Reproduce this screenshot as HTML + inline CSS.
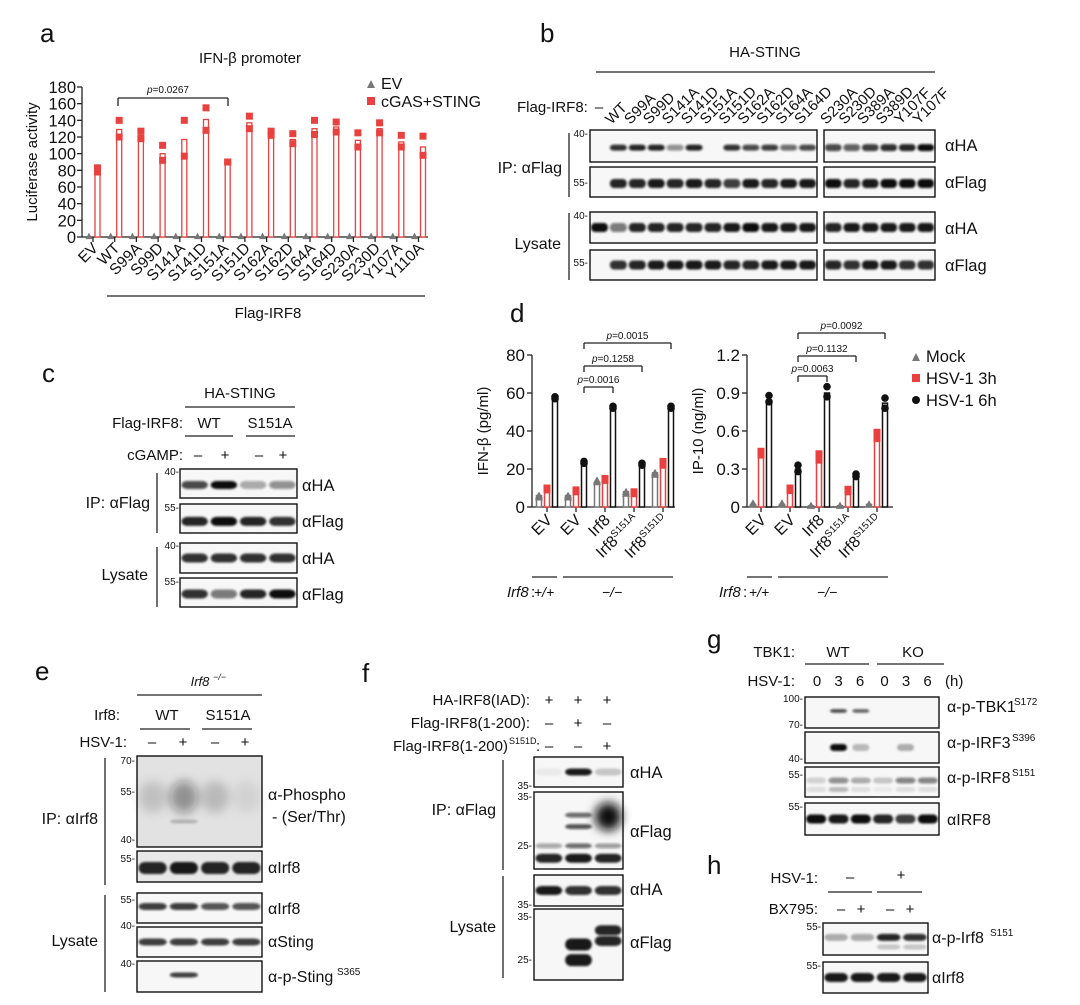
<!DOCTYPE html>
<html><head><meta charset="utf-8"><style>
html,body{margin:0;padding:0;background:#fff;}
svg{display:block;font-family:"Liberation Sans",Arial,sans-serif;}
</style></head><body>
<svg id="fig" width="1080" height="1005" viewBox="0 0 1080 1005" xmlns="http://www.w3.org/2000/svg">
<defs><filter id="bl" x="-50%" y="-100%" width="200%" height="300%"><feGaussianBlur stdDeviation="1.1"/></filter>
<filter id="bl2" x="-50%" y="-50%" width="200%" height="200%"><feGaussianBlur stdDeviation="5"/></filter></defs>
</svg>
<script>
const NS='http://www.w3.org/2000/svg';
const svg=document.getElementById('fig');
function mk(tag,attrs,parent){const e=document.createElementNS(NS,tag);for(const k in attrs)e.setAttribute(k,attrs[k]);(parent||svg).appendChild(e);return e;}
function txt(x,y,s,size,anchor,name,extra){const e=mk('text',Object.assign({x:x,y:y,'font-size':size,'text-anchor':anchor||'start',fill:'#111'},extra||{}));e.textContent=s;


return e;}
function ln(x1,y1,x2,y2,name,w,col){const e=mk('line',{x1:x1,y1:y1,x2:x2,y2:y2,stroke:col||'#222','stroke-width':w||1.3});


return e;}

/* ================= Panel a data ================= */
const aCats=['EV','WT','S99A','S99D','S141A','S141D','S151A','S151D','S162A','S162D','S164A','S164D','S230A','S230D','Y107A','Y110A'];
const aEV=[1,1,1,1,1,1,1,1,1,1,1,1,1,1,1,1];
const aMean=[80,129,122,100,117,141,90,137,124,117,130,132,116,130,114,108];
const aRep1=[83,140,127,110,140,155,90,145,127,124,140,138,125,137,122,121];
const aRep2=[78,120,118,92,97,128,90,130,122,112,123,126,108,125,108,98];
const aTicks=[0,20,40,60,80,100,120,140,160,180];

const ax={x0:82,x1:428,y0:237,top:87,max:180};
function aY(v){return ax.y0-v*(ax.y0-ax.top)/ax.max;}
function aX(i){return 93+i*21.7;}
txt(40,42,'a',26,'start','panel-a-label');
txt(250,63,'IFN-β promoter',15,'middle','panel-a-title');
(function(){
const g=mk('g',{});


ln(ax.x0,aY(180),ax.x0,ax.y0,'a-y-axis');
ln(ax.x0,ax.y0,ax.x1,ax.y0,'a-x-axis');
aTicks.forEach(t=>{ln(ax.x0-5,aY(t),ax.x0,aY(t),'a-y-tick');txt(ax.x0-6,aY(t)+6,String(t),16.5,'end','a-y-tick-label');});
txt(0,0,'Luciferase activity',15,'middle','a-y-axis-title',{transform:'translate(37,162) rotate(-90)'});
aCats.forEach((c,i)=>{
 const x=aX(i);
 ln(x,ax.y0,x,ax.y0+5,'a-x-tick');
 txt(0,0,c,15.5,'end','a-x-label',{transform:`translate(${x+6},${ax.y0+12}) rotate(-45)`});
 const b=mk('rect',{x:x+2,y:aY(aMean[i]),width:5,height:ax.y0-aY(aMean[i]),fill:'#fff',stroke:'#e8413f','stroke-width':1.3});
 
 
 [aRep1[i],aRep2[i]].forEach(v=>{const p=mk('rect',{x:x+1,y:aY(v)-3.5,width:7,height:7,fill:'#e8413f'});
 
 });
 const tx=x-4,ty=aY(aEV[i]);
 const t=mk('polygon',{points:`${tx-3.5},${ty+3} ${tx+3.5},${ty+3} ${tx},${ty-3.5}`,fill:'#777'});
 
 
});
})();
ln(118,98,228,98,'a-pvalue-bracket');ln(118,98,118,106,'a-pvalue-bracket');ln(228,98,228,106,'a-pvalue-bracket');
const ap=txt(168,93,'',10,'middle','a-pvalue-text');{const i=mk('tspan',{'font-style':'italic'},ap);i.textContent='p';const r=mk('tspan',{},ap);r.textContent='=0.0267';}
mk('polygon',{points:'367,88 375,88 371,80',fill:'#777'});
txt(381,89,'EV',16,'start','a-legend-ev');
mk('rect',{x:367,y:97,width:8,height:8,fill:'#e8413f'});
txt(381,107,'cGAS+STING',16,'start','a-legend-cgas');
ln(107,296,425,296,'a-group-line');
txt(268,318,'Flag-IRF8',15,'middle','a-group-label');

/* ================= Blots ================= */
function blot(name,x,y,w,h,lanes,bands,bg){
 const g=mk('g',{});
 
 
 const r=mk('rect',{x:x,y:y,width:w,height:h,fill:bg||'#f7f7f7',stroke:'#111','stroke-width':1.4},g);
 
 
 const lw=w/lanes;
 bands.forEach(b=>{b.v.forEach((v,i)=>{if(v<=0)return;
  const rx=lw*(b.rw||.45);
  let e;
  if(b.big){e=mk('ellipse',{cx:x+lw*(i+.5),cy:y+h*b.cy,rx:rx,ry:b.ry,fill:'#111','fill-opacity':v,filter:'url(#bl2)'},g);}
  else{e=mk('rect',{x:x+lw*(i+.5)-rx,y:y+h*b.cy-b.ry,width:2*rx,height:2*b.ry,rx:rx*0.45,ry:b.ry,fill:'#111','fill-opacity':v,filter:'url(#bl)'},g);}
  
  });});
}
function mw(x,y,s){txt(x,y,s,10,'end','mw-marker');}

/* Panel b */
txt(540,42,'b',26,'start','panel-b-label');
txt(765,57,'HA-STING',15,'middle','b-ha-sting-label');
ln(596,72,935,72,'b-ha-sting-line');
txt(517,112,'Flag-IRF8:',15,'start','b-flag-irf8-label');
txt(599,112,'–',15,'middle','b-lane-dash');
const bLeft=['WT','S99A','S99D','S141A','S141D','S151A','S151D','S162A','S162D','S164A','S164D'];
const bRight=['S230A','S230D','S389A','S389D','Y107F','Y107F'];
bLeft.forEach((s,i)=>{const cx=590+18.9*(i+1.5);txt(0,0,s,15,'start','b-lane-label',{transform:`translate(${cx-7},${125}) rotate(-45)`});});
bRight.forEach((s,i)=>{const cx=824+18.5*(i+.5);txt(0,0,s,15,'start','b-lane-label',{transform:`translate(${cx-7},${125}) rotate(-45)`});});
blot('b-ip-ha-left',590,130,227,32,12,[{cy:.55,ry:3,v:[0,.85,.9,.9,.45,.9,0,.85,.75,.8,.6,.75]}]);
blot('b-ip-ha-right',824,130,111,32,6,[{cy:.55,ry:3.5,v:[.75,.65,.8,.85,.9,1]}]);
blot('b-ip-flag-left',590,167,227,30,12,[{cy:.55,ry:4.5,v:[0,.9,.9,.95,.9,.95,.9,.8,.95,.9,.95,.95]}]);
blot('b-ip-flag-right',824,167,111,30,6,[{cy:.55,ry:4.5,v:[1,.9,.95,1,1,1]}]);
blot('b-lys-ha-left',590,212,227,31,12,[{cy:.5,ry:4.5,v:[1,.55,.9,.9,.9,.9,.9,.95,1,.95,.95,.95]}]);
blot('b-lys-ha-right',824,212,111,31,6,[{cy:.5,ry:4.5,v:[.9,.95,.95,.95,.95,.95]}]);
blot('b-lys-flag-left',590,250,227,30,12,[{cy:.5,ry:4.5,v:[0,.85,.9,.95,.95,.95,.95,.9,.9,.95,.95,.95]}]);
blot('b-lys-flag-right',824,250,111,30,6,[{cy:.5,ry:4.5,v:[.9,.85,.95,.95,.85,.85]}]);
mw(588,137,'40-');mw(588,186,'55-');mw(588,219,'40-');mw(588,266,'55-');
ln(569,133,569,197,'b-ip-bracket');ln(569,213,569,280,'b-lysate-bracket');
txt(562,173,'IP: αFlag',16,'end','b-ip-label');
txt(561,249,'Lysate',16,'end','b-lysate-label');
[['αHA',151],['αFlag',188],['αHA',234],['αFlag',271]].forEach(a=>txt(945,a[1],a[0],16.5,'start','b-antibody-label'));

/* Panel c */
txt(42,382,'c',26,'start','panel-c-label');
txt(240,398,'HA-STING',15,'middle','c-ha-sting-label');
ln(185,407,295,407,'c-ha-sting-line');
txt(183,428,'Flag-IRF8:',15,'end','c-flag-irf8-label');
txt(209,428,'WT',15,'middle','c-wt-label');txt(270,428,'S151A',15,'middle','c-s151a-label');
ln(185,436,233,436,'c-wt-line');ln(246,436,295,436,'c-s151a-line');
txt(183,460,'cGAMP:',15,'end','c-cgamp-label');
[['–',198],['+',225],['–',259],['+',283]].forEach(a=>txt(a[1],460,a[0],15,'middle','c-cgamp-sign'));
blot('c-ip-ha',180,469,117,29,4,[{cy:.55,ry:4,v:[.75,1,.35,.45]}]);
blot('c-ip-flag',180,504,117,29,4,[{cy:.6,ry:4.5,v:[.9,1,.9,.85]}]);
blot('c-lys-ha',180,543,117,30,4,[{cy:.5,ry:4.5,v:[.85,.85,.85,.85]}]);
blot('c-lys-flag',180,578,117,29,4,[{cy:.55,ry:4.5,v:[.85,.55,.9,1]}]);
mw(179,475,'40-');mw(179,511,'55-');mw(179,549,'40-');mw(179,585,'55-');
ln(157,473,157,533,'c-ip-bracket');ln(157,547,157,607,'c-lysate-bracket');
txt(150,508,'IP: αFlag',16,'end','c-ip-label');
txt(148,580,'Lysate',16,'end','c-lysate-label');
[['αHA',491],['αFlag',527],['αHA',564],['αFlag',600]].forEach(a=>txt(302,a[1],a[0],16.5,'start','c-antibody-label'));

/* Panel e */
txt(35,680,'e',26,'start','panel-e-label');
txt(200,686,'Irf8',13,'middle','e-genotype-label',{'font-style':'italic'});
txt(213,680,'−/−',9,'start','e-genotype-sup',{'font-style':'italic'});
ln(137,695,262,695,'e-genotype-line');
txt(120,720,'Irf8:',15,'end','e-irf8-label');
txt(167,720,'WT',15,'middle','e-wt-label');txt(228,720,'S151A',15,'middle','e-s151a-label');
ln(140,729,190,729,'e-wt-line');ln(202,729,252,729,'e-s151a-line');
txt(127,747,'HSV-1:',15,'end','e-hsv-label');
[['–',152],['+',183],['–',215],['+',245]].forEach(a=>txt(a[1],747,a[0],15,'middle','e-hsv-sign'));
blot('e-ip-phospho',137,756,125,91,4,[{cy:.45,ry:16,v:[.15,.4,.18,.07],big:1},{cy:.72,ry:2,v:[0,.2,0,0]}],'#e2e2e2');
blot('e-ip-irf8',137,851,125,31,4,[{cy:.55,ry:6,v:[.9,.95,.9,.9]}],'#e8e8e8');
blot('e-lys-irf8',137,893,125,30,4,[{cy:.45,ry:3.5,v:[.8,.8,.7,.7]}]);
blot('e-lys-sting',137,927,125,30,4,[{cy:.5,ry:3.5,v:[.8,.8,.8,.8]}]);
blot('e-lys-psting',137,961,125,31,4,[{cy:.45,ry:2.5,v:[0,.8,0,0]}]);
mw(135,764,'70-');mw(135,795,'55-');mw(135,843,'40-');mw(135,862,'55-');mw(135,903,'55-');mw(135,929,'40-');mw(135,967,'40-');
ln(105,758,105,885,'e-ip-bracket');ln(105,895,105,992,'e-lysate-bracket');
txt(98,824,'IP: αIrf8',16,'end','e-ip-label');
txt(98,946,'Lysate',16,'end','e-lysate-label');
txt(268,800,'α-Phospho',16,'start','e-antibody-phospho');
txt(272,822,'- (Ser/Thr)',16,'start','e-antibody-serthr');
txt(268,873,'αIrf8',16,'start','e-antibody-label');
txt(268,914,'αIrf8',16,'start','e-antibody-label');
txt(268,947,'αSting',16,'start','e-antibody-label');
txt(268,982,'α-p-Sting',16,'start','e-antibody-psting');
txt(337,975,'S365',10,'start','e-antibody-sup');

/* Panel f */
txt(362,682,'f',26,'start','panel-f-label');
txt(530,705,'HA-IRF8(IAD):',15,'end','f-ha-irf8-label');
txt(530,728,'Flag-IRF8(1-200):',15,'end','f-flag-irf8-label');
txt(508,751,'Flag-IRF8(1-200)',15,'end','f-flag-irf8-s151d-label');
txt(509,744,'S151D',9,'start','f-sup');txt(536,751,':',15,'start','f-colon');
[[705,['+','+','+']],[728,['–','+','–']],[751,['–','–','+']]].forEach(r=>r[1].forEach((s,i)=>txt(549+29*i,r[0],s,15,'middle','f-sign')));
blot('f-ip-ha',534,757,89,30,3,[{cy:.5,ry:3.5,v:[.05,.95,.2]}]);
blot('f-ip-flag',534,792,89,77,3,[{cy:.86,ry:4.5,v:[.9,.95,.9]},{cy:.7,ry:2.5,v:[.35,.6,.4]},{cy:.45,ry:2.5,v:[0,.7,0]},{cy:.3,ry:2.5,v:[0,.6,0]},{cy:.32,ry:14,v:[0,0,1],rw:.45,big:1}]);
blot('f-lys-ha',534,875,89,31,3,[{cy:.5,ry:4.5,v:[.95,.85,.85]}]);
blot('f-lys-flag',534,909,89,71,3,[{cy:.5,ry:6,v:[0,.95,0]},{cy:.72,ry:6,v:[0,.95,0]},{cy:.3,ry:5,v:[0,0,.9]},{cy:.45,ry:5,v:[0,0,.9]}]);
mw(532,789,'35-');mw(532,800,'35-');mw(532,849,'25-');mw(532,908,'35-');mw(532,920,'35-');mw(532,963,'25-');
ln(503,760,503,870,'f-ip-bracket');ln(503,876,503,978,'f-lysate-bracket');
txt(496,815,'IP: αFlag',16,'end','f-ip-label');
txt(496,932,'Lysate',16,'end','f-lysate-label');
[['αHA',778],['αFlag',837],['αHA',895],['αFlag',948]].forEach(a=>txt(630,a[1],a[0],16.5,'start','f-antibody-label'));

/* Panel g */
txt(707,648,'g',26,'start','panel-g-label');
txt(795,657,'TBK1:',15,'end','g-tbk1-label');
txt(838,657,'WT',15,'middle','g-wt-label');txt(913,657,'KO',15,'middle','g-ko-label');
ln(805,664,869,664,'g-wt-line');ln(877,664,944,664,'g-ko-line');
txt(795,686,'HSV-1:',15,'end','g-hsv-label');
['0','3','6','0','3','6'].forEach((s,i)=>txt(817+21.5*i+(i>2?3:0),686,s,15,'middle','g-time-label'));
txt(945,686,'(h)',15,'start','g-h-label');
blot('g-ptbk1',805,697,134,31,6,[{cy:.45,ry:1.8,v:[0,.75,.65,0,0,0],rw:.38}]);
blot('g-pirf3',805,732,134,31,6,[{cy:.5,ry:3.5,v:[0,1,.25,0,.3,0],rw:.38}]);
blot('g-pirf8',805,767,134,30,6,[{cy:.45,ry:3,v:[.15,.45,.3,.2,.5,.5]},{cy:.75,ry:2.5,v:[.1,.25,.1,.05,.1,.1]}]);
blot('g-irf8',805,803,134,32,6,[{cy:.5,ry:4.5,v:[1,.95,1,.9,.8,1]}]);
mw(803,702,'100-');mw(803,728,'70-');mw(803,762,'40-');mw(803,778,'55-');mw(803,810,'55-');
txt(947,712,'α-p-TBK1',16,'start','g-antibody-ptbk1');txt(1014,705,'S172',10,'start','g-sup');
txt(947,748,'α-p-IRF3',16,'start','g-antibody-pirf3');txt(1012,741,'S396',10,'start','g-sup');
txt(947,783,'α-p-IRF8',16,'start','g-antibody-pirf8');txt(1012,776,'S151',10,'start','g-sup');
txt(947,825,'αIRF8',16,'start','g-antibody-irf8');

/* Panel h */
txt(707,874,'h',26,'start','panel-h-label');
txt(818,883,'HSV-1:',15,'end','h-hsv-label');
txt(850,882,'–',15,'middle','h-minus');txt(901,880,'+',15,'middle','h-plus');
ln(828,892,872,892,'h-minus-line');ln(877,892,922,892,'h-plus-line');
txt(818,914,'BX795:',15,'end','h-bx795-label');
[['–',841],['+',861],['–',890],['+',910]].forEach(a=>txt(a[1],914,a[0],15,'middle','h-bx-sign'));
blot('h-pirf8',823,923,105,32,4,[{cy:.45,ry:3.5,v:[.3,.35,.9,.85]},{cy:.75,ry:2.5,v:[0,0,.2,.2]}]);
blot('h-irf8',823,962,105,31,4,[{cy:.5,ry:4.5,v:[.95,.95,.95,.95]}]);
mw(821,930,'55-');mw(821,969,'55-');
txt(932,943,'α-p-Irf8',16,'start','h-antibody-pirf8');txt(990,936,'S151',10,'start','h-sup');
txt(932,983,'αIrf8',16,'start','h-antibody-irf8');

/* ================= Panel d data ================= */
const dCats=['EV','EV','Irf8','Irf8S151A','Irf8S151D'];
const ifnMock=[6,6,13,8,18];
const ifn3h=[9,8,14,7,22];
const ifn6h=[57,23,52,22,52];
const ifnMockPts=[[6,5],[6,5],[14,13],[8,7],[18,17]];
const ifn3hPts=[[10,9],[9,8],[15,14],[8,7],[24,22]];
const ifn6hPts=[[58,57],[24,23],[53,52],[23,22],[53,52]];
const ipMock=[0.02,0.02,0.01,0.01,0.02];
const ip3h=[0.42,0.14,0.38,0.13,0.56];
const ip6h=[0.84,0.30,0.90,0.24,0.82];
const ipMockPts=[[0.03,0.02],[0.03,0.02],[0.01,0.01],[0.01,0.01],[0.02,0.02]];
const ip3hPts=[[0.44,0.41],[0.15,0.13],[0.42,0.37],[0.14,0.12],[0.59,0.54]];
const ip6hPts=[[0.88,0.83],[0.33,0.28],[0.95,0.87],[0.26,0.24],[0.86,0.78]];
const ifnTicks=[0,20,40,60,80];
const ipTicks=[0,0.3,0.6,0.9,1.2];

txt(510,322,'d',26,'start','panel-d-label');
function dChart(pre,x0,x1,gx,max,ticks,mock,h3,h6,mP,h3P,h6P,title,brackets){
 const y0=507,top=355;
 const Y=v=>y0-v*(y0-top)/max;
 const X=i=>gx+i*29;
 ln(x0,top,x0,y0,pre+'-y-axis');ln(x0,y0,x1,y0,pre+'-x-axis');
 ticks.forEach(t=>{ln(x0-5,Y(t),x0,Y(t),pre+'-y-tick');txt(x0-7,Y(t)+6,String(t),17,'end',pre+'-y-tick-label');});
 txt(0,0,title,15,'middle',pre+'-y-axis-title',{transform:`translate(${x0-44},${(y0+top)/2}) rotate(-90)`});
 const ser=[[mock,mP,'#777','mock',-8],[h3,h3P,'#e8413f','hsv3h',0],[h6,h6P,'#111','hsv6h',8]];
 dCats.forEach((c,i)=>{
  const x=X(i);
  ln(x,y0,x,y0+5,pre+'-x-tick');
  ser.forEach(s=>{
   const bx=x+s[4],v=s[0][i];
   const b=mk('rect',{x:bx-2.5,y:Y(v),width:5,height:y0-Y(v),fill:'#fff',stroke:s[2],'stroke-width':1.5});
   
   
   s[1][i].forEach(pv=>{const py=Y(pv);let p;
    if(s[3]==='mock')p=mk('polygon',{points:`${bx-4},${py+3} ${bx+4},${py+3} ${bx},${py-4}`,fill:'#777'});
    else if(s[3]==='hsv3h')p=mk('rect',{x:bx-3.5,y:py-3.5,width:7,height:7,fill:'#e8413f'});
    else p=mk('circle',{cx:bx,cy:py,r:3.8,fill:'#111'});
    
    });
  });
  const lab=txt(0,0,'',16,'end',pre+'-x-label',{transform:`translate(${x+6},${y0+14}) rotate(-45)`});
  if(c.startsWith('Irf8S')){lab.textContent='Irf8';const sp=mk('tspan',{'font-size':10,dy:-6},lab);sp.textContent=c.slice(4);}
  else lab.textContent=c;
 });
 brackets.forEach(b=>{const xa=X(b[0])+8,xb=X(b[1])+8;
  ln(xa,b[2]+6,xa,b[2],pre+'-pvalue-bracket');ln(xa,b[2],xb,b[2],pre+'-pvalue-bracket');ln(xb,b[2],xb,b[2]+6,pre+'-pvalue-bracket');
  const t=txt((xa+xb)/2,b[2]-4,'',10,'middle',pre+'-pvalue-text');const i=mk('tspan',{'font-style':'italic'},t);i.textContent='p';const r=mk('tspan',{},t);r.textContent=b[3];});
}
dChart('d-ifn',532,675,547,80,ifnTicks,ifnMock,ifn3h,ifn6h,ifnMockPts,ifn3hPts,ifn6hPts,'IFN-β (pg/ml)',[[1,2,387,'=0.0016'],[1,3,366,'=0.1258'],[1,4,343,'=0.0015']]);
dChart('d-ip10',747,893,761,1.2,ipTicks,ipMock,ip3h,ip6h,ipMockPts,ip3hPts,ip6hPts,'IP-10 (ng/ml)',[[1,2,376,'=0.0063'],[1,3,356,'=0.1132'],[1,4,333,'=0.0092']]);
ln(532,577,557,577,'d-ifn-wt-line');ln(563,577,673,577,'d-ifn-ko-line');
txt(507,597,'Irf8',15,'start','d-ifn-irf8-label',{'font-style':'italic'});txt(531,597,':',15,'start','d-colon');
txt(544,597,'+/+',14,'middle','d-ifn-wt',{'font-style':'italic'});txt(612,597,'−/−',14,'middle','d-ifn-ko',{'font-style':'italic'});
ln(747,577,772,577,'d-ip10-wt-line');ln(778,577,888,577,'d-ip10-ko-line');
txt(719,597,'Irf8',15,'start','d-ip10-irf8-label',{'font-style':'italic'});txt(743,597,':',15,'start','d-colon');
txt(759,597,'+/+',14,'middle','d-ip10-wt',{'font-style':'italic'});txt(827,597,'−/−',14,'middle','d-ip10-ko',{'font-style':'italic'});
mk('polygon',{points:'912,361 920,361 916,353',fill:'#777'});
txt(926,362,'Mock',16.5,'start','d-legend-mock');
mk('rect',{x:912,y:374,width:8,height:8,fill:'#e8413f'});
txt(926,384,'HSV-1 3h',16.5,'start','d-legend-3h');
mk('circle',{cx:916,cy:400,r:4,fill:'#111'});
txt(926,406,'HSV-1 6h',16.5,'start','d-legend-6h');
</script>
</body></html>
